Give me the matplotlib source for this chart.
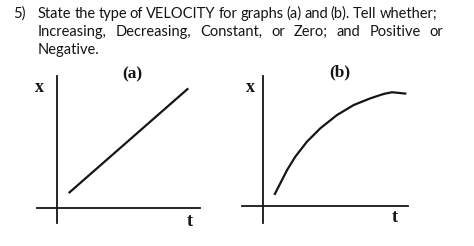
import numpy as np
import matplotlib.pyplot as plt

# question text, one list per printed line
num_label = '5)'
line1 = 'State the type of VELOCITY for graphs (a) and (b). Tell whether;'.split()
line2 = 'Increasing, Decreasing, Constant, or Zero; and Positive or'.split()
line3 = 'Negative.'.split()

# graph (a): straight line, x against t
t_a = [0.9, 10.1]
x_a = [1.15, 9.2]

# graph (b): curve that levels off
t_b = [0.87, 1.33, 1.85, 2.48, 3.38, 4.41, 5.69, 6.98, 8.25, 9.28, 9.92, 11.02]
x_b = [0.85, 1.75, 2.77, 3.79, 4.95, 5.98, 7.0, 7.77, 8.28, 8.62, 8.75, 8.64]

W, H = 474, 246
fig = plt.figure(figsize=(W / 100, H / 100), dpi=100)
fig.patch.set_facecolor('white')
renderer = fig.canvas.get_renderer()

ink = '#151515'
font = 'Lato'
lab_font = 'Liberation Serif'
fs = 11


def fx(px):
    return px / W


def fy(py):
    return 1 - py / H


def justify(words, x0, x1, base, size):
    # put the words so the line runs from x0 to x1 (pixels)
    texts = [fig.text(0, fy(base), w, fontsize=size, family=font, color=ink,
                      va='baseline', ha='left') for w in words]
    widths = [t.get_window_extent(renderer).width for t in texts]
    gap = (x1 - x0 - sum(widths)) / max(len(words) - 1, 1)
    if gap < 2.5:
        for t in texts:
            t.remove()
        return justify(words, x0, x1, base, size - 0.25)
    pos = x0
    for t, w in zip(texts, widths):
        t.set_x(fx(pos))
        pos += w + gap
    return size


size = justify(line1, 38, 437, 18, fs)
fig.text(fx(13), fy(18), num_label, fontsize=size, family=font, color=ink, va='baseline')
justify(line2, 38, 443, 36, size)
fig.text(fx(38), fy(54), ' '.join(line3), fontsize=size, family=font, color=ink, va='baseline')


def panel(rect, tlim, xlim, t, x, tag, tag_px, xlab_px, tlab_px):
    ax = fig.add_axes(rect)
    ax.set_xlim(tlim)
    ax.set_ylim(xlim)
    for s in ['top', 'right']:
        ax.spines[s].set_visible(False)
    for s in ['left', 'bottom']:
        ax.spines[s].set_position(('data', 0))
        ax.spines[s].set_linewidth(1.3)
        ax.spines[s].set_color(ink)
    ax.set_xticks([])
    ax.set_yticks([])
    ax.patch.set_alpha(0)
    ax.plot(t, x, color=ink, lw=1.6, solid_capstyle='butt')
    fig.text(fx(tag_px[0]), fy(tag_px[1]), tag, fontsize=12.5, family=lab_font,
             weight='bold', color=ink, ha='center', va='center')
    fig.text(fx(xlab_px[0]), fy(xlab_px[1]), 'x', fontsize=13, family=lab_font,
             weight='bold', color=ink, ha='center', va='center')
    fig.text(fx(tlab_px[0]), fy(tlab_px[1]), 't', fontsize=13, family=lab_font,
             weight='bold', color=ink, ha='center', va='center')
    return ax


panel([fx(37), 1 - 223 / H, 163 / W, 147 / H], (-1.54, 11.0), (-1.15, 10.15),
      t_a, x_a, '(a)', (132, 74), (39, 88), (190, 221))
panel([fx(242), 1 - 223 / H, 166 / W, 147 / H], (-1.62, 11.15), (-1.31, 10.0),
      t_b, x_b, '(b)', (340, 72), (250, 88), (395, 218))

fig.savefig('out.png', dpi=100)
